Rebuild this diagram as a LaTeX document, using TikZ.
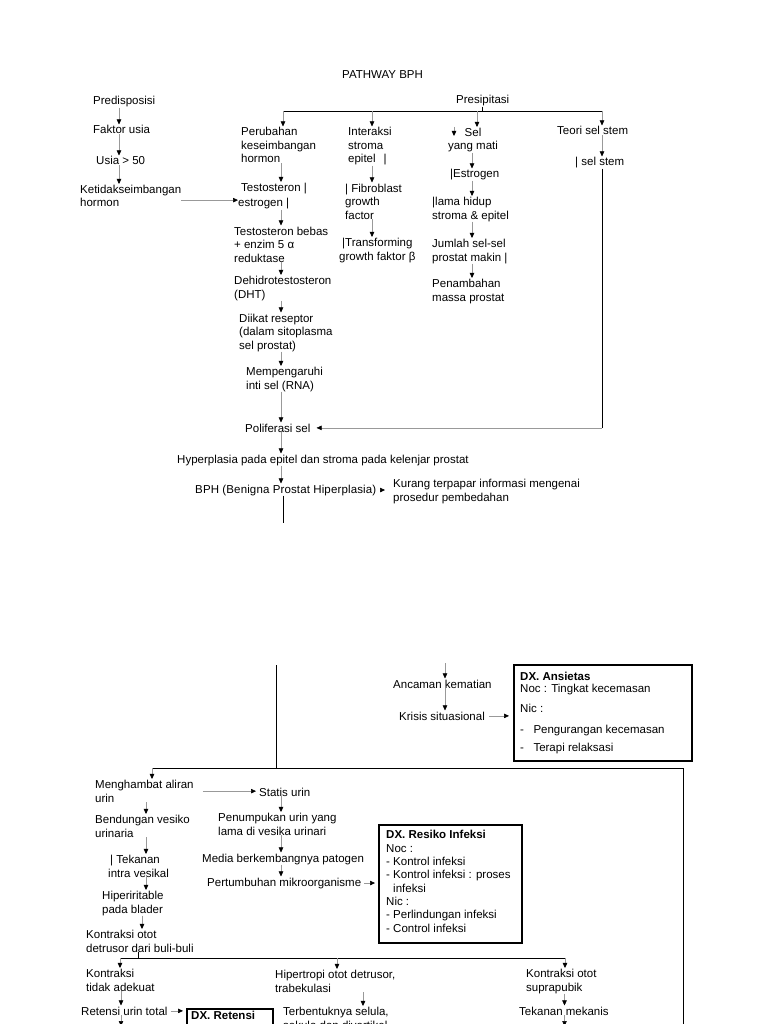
\documentclass[tikz,border=0pt]{standalone}
\usepackage{fontspec}
\setmainfont{Liberation Sans}
\usetikzlibrary{arrows.meta}

\begin{document}
\begin{tikzpicture}[x=1pt, y=-1pt,
    txt/.style={anchor=base west, inner sep=0pt, align=left, font=\fontsize{11.5}{13.5}\selectfont},
    arr/.style={draw=black!40, line width=0.5pt, -{Triangle[width=4.5pt,length=5pt,color=black]}, shorten >=1pt},
    line/.style={draw=black, line width=0.8pt},
    dxbox/.style={draw, line width=2.2pt, inner sep=0pt, anchor=north west}]
    \useasboundingbox (0,0) rectangle (768,1024);

    % upper part (base = last line)
    \node[txt] (title) at (342,79) {PATHWAY BPH};
    \node[txt] (pred) at (93,105) {Predisposisi};
    \node[txt] (faktor) at (93,134) {Faktor usia};
    \node[txt] (usia) at (96,165) {Usia > 50};
    \node[txt] (ketid) at (80,207) {Ketidakseimbangan\\hormon};
    \node[txt] (presip) at (456,104) {Presipitasi};
    \node[txt] (perub) at (241,163) {Perubahan\\keseimbangan\\hormon};
    \node[txt] (testo) at (241,207) {Testosteron |\\[2pt]\hspace*{-3pt}estrogen |};
    \node[txt] (bebas) at (234,262) {Testosteron bebas\\+ enzim 5 α\\reduktase};
    \node[txt] (dht) at (234,298) {Dehidrotestosteron\\(DHT)};
    \node[txt] (diikat) at (239,349) {Diikat reseptor\\(dalam sitoplasma\\sel prostat)};
    \node[txt] (mempeng) at (246,389) {Mempengaruhi\\inti sel (RNA)};
    \node[txt] (polif) at (245,432) {Poliferasi sel};
    \node[txt] (hyper) at (177,463) {Hyperplasia pada epitel dan stroma pada kelenjar prostat};
    \node[txt, font=\fontsize{11.5}{13.5}\selectfont\addfontfeature{LetterSpace=1.2}] (bph) at (195,493) {BPH (Benigna Prostat Hiperplasia)};
    \node[txt] (kurang) at (393,501) {Kurang terpapar informasi mengenai\\prosedur pembedahan};
    \node[txt] (inter) at (348,163) {Interaksi\\stroma\\epitel\hspace{8pt}|};
    \node[txt] (fibro) at (345,219) {| Fibroblast\\growth\\factor};
    \node[txt] (transf) at (342,260) {|Transforming\\\hspace*{-3pt}growth faktor β};
    \node[txt, align=center, anchor=base] (sel) at (473,150) {Sel\\yang mati};
    \node[txt] (estro) at (450,178) {|Estrogen};
    \node[txt] (lama) at (432,219) {|lama hidup\\stroma \& epitel};
    \node[txt] (jumlah) at (432,261) {Jumlah sel-sel\\prostat makin |};
    \node[txt] (penamb) at (432,301) {Penambahan\\massa prostat};
    \node[txt] (teori) at (557,135) {Teori sel stem};
    \node[txt] (selstem) at (575,166) {| sel stem};

    \coordinate (cL) at (119,0);
    \coordinate (cP) at (281,0);
    \coordinate (cI) at (372,0);
    \coordinate (cS) at (472,0);
    \coordinate (cT) at (602,0);
    \coordinate (d1) at (283,111);
    \coordinate (d2) at (372,111);
    \coordinate (d3) at (477,111);
    \coordinate (d4) at (602,111);
    \coordinate (selin) at (454,127);
    \coordinate (cut1) at (283,523);
    \coordinate (kurin) at (386,0);

    \draw[arr] (pred.south -| cL) -- (faktor.north -| cL);
    \draw[arr] (faktor.south -| cL) -- (usia.north -| cL);
    \draw[arr] (usia.south -| cL) -- (ketid.north -| cL);
    \draw[arr, shorten >=3pt] ([yshift=-4pt]ketid.east) -- ([yshift=-4pt]ketid.east -| testo.west);

    \draw[line] (presip.south) -- (presip.south |- d1);
    \draw[line] (d1) -- (d4);
    \draw[arr] (d1) -- (d1 |- perub.north);
    \draw[arr] (d2) -- (d2 |- inter.north);
    \draw[arr] (d3) -- (d3 |- sel.north);
    \draw[arr] (d4) -- (d4 |- teori.north);
    \draw[arr] (selin) -- (selin |- 0,137);

    \draw[arr] (perub.south -| cP) -- (testo.north -| cP);
    \draw[arr] (testo.south -| cP) -- (bebas.north -| cP);
    \draw[arr] (bebas.south -| cP) -- (dht.north -| cP);
    \draw[arr] (dht.south -| cP) -- (diikat.north -| cP);
    \draw[arr] (diikat.south -| cP) -- (mempeng.north -| cP);
    \draw[arr] (mempeng.south -| cP) -- (polif.north -| cP);
    \draw[arr] (polif.south -| cP) -- (hyper.north -| cP);
    \draw[arr] (hyper.south -| cP) -- (bph.north -| cP);

    \draw[arr] (inter.south -| cI) -- (fibro.north -| cI);
    \draw[arr] (fibro.south -| cI) -- (transf.north -| cI);

    \draw[arr] (sel.south -| cS) -- (estro.north -| cS);
    \draw[arr] (estro.south -| cS) -- (lama.north -| cS);
    \draw[arr] (lama.south -| cS) -- (jumlah.north -| cS);
    \draw[arr] (jumlah.south -| cS) -- (penamb.north -| cS);

    \draw[arr] (teori.south -| cT) -- (selstem.north -| cT);
    \draw[line] (selstem.south -| cT) -- (cT |- polif.east);
    \draw[arr, shorten >=6pt] (cT |- polif.east) -- (polif.east);

    \draw[arr, shorten <=4pt] (bph.east) -- (bph.east -| kurin);
    \draw[line] (bph.south -| d1) -- (cut1);

    % lower part
    \node[txt] (ancam) at (393,688) {Ancaman kematian};
    \node[txt] (krisis) at (399,720) {Krisis situasional};
    \node[dxbox, minimum width=178pt, minimum height=96pt] (ansbox) at (513,664) {};
    \node[txt] (anstxt) at (520,751) {\textbf{DX. Ansietas}\\[-1pt]Noc : Tingkat kecemasan\\[6.5pt]Nic :\\[7.5pt]\makebox[13.3pt][l]{-}Pengurangan kecemasan\\[4pt]\makebox[13.3pt][l]{-}Terapi relaksasi};

    \node[txt] (mengh) at (95,802) {Menghambat aliran\\urin};
    \node[txt] (statis) at (259,796) {Statis urin};
    \node[txt] (bend) at (95,837) {Bendungan vesiko\\urinaria};
    \node[txt] (tekan) at (110,877) {| Tekanan\\\hspace*{-2pt}intra vesikal};
    \node[txt] (hiperit) at (102,913) {Hiperiritable\\pada blader};
    \node[txt] (kontr) at (86,952) {Kontraksi otot\\detrusor dari buli-buli};
    \node[txt] (penump) at (218,835) {Penumpukan urin yang\\lama di vesika urinari};
    \node[txt] (media) at (202,862) {Media berkembangnya patogen};
    \node[txt] (pertum) at (207,886) {Pertumbuhan mikroorganisme};
    \node[dxbox, minimum width=143pt, minimum height=118pt] (resbox) at (378,824) {};
    \node[txt, font=\fontsize{11.5}{13.3}\selectfont] (restxt) at (386,932) {\textbf{DX. Resiko Infeksi}\\Noc :\\- Kontrol infeksi\\- Kontrol infeksi : proses\\\phantom{- }infeksi\\Nic :\\- Perlindungan infeksi\\- Control infeksi};

    \node[txt] (kontr2) at (86,991) {Kontraksi\\tidak adekuat};
    \node[txt] (retensi) at (81,1015) {Retensi urin total};
    \node[dxbox, minimum width=86pt, minimum height=40pt] (retbox) at (186,1008) {};
    \node[txt] (rettxt) at (191,1033) {\textbf{DX. Retensi}\\urin};
    \node[txt] (hipert) at (275,992) {Hipertropi otot detrusor,\\trabekulasi};
    \node[txt] (terbent) at (283,1029) {Terbentuknya selula,\\sekula dan divertikel};
    \node[txt] (kontr3) at (526,991) {Kontraksi otot\\suprapubik};
    \node[txt] (tekmek) at (519,1015) {Tekanan mekanis};

    \coordinate (cut2) at (276,665);
    \coordinate (j1) at (152,768);
    \coordinate (j2) at (683,768);
    \coordinate (j3) at (683,1030);
    \coordinate (cA) at (445,0);
    \coordinate (ancin) at (445,663);
    \coordinate (cM) at (146,0);
    \coordinate (cM2) at (142,0);
    \coordinate (cN) at (281,0);
    \coordinate (k0) at (138,958);
    \coordinate (k1) at (120,958);
    \coordinate (k2) at (337,958);
    \coordinate (k3) at (565,958);
    \coordinate (cK) at (121,0);
    \coordinate (cH) at (363,0);
    \coordinate (cR) at (564.5,0);
    \coordinate (out1) at (121,1027);
    \coordinate (out2) at (564.5,1027);

    \draw[line] (cut2) -- (cut2 |- j1);
    \draw[line] (j1) -- (j2) -- (j3);
    \draw[arr] (j1) -- (j1 |- mengh.north);

    \draw[arr] (ancin) -- (ancin |- ancam.north);
    \draw[arr] (ancam.south -| cA) -- (krisis.north -| cA);
    \draw[arr, shorten <=4pt, shorten >=4pt] (krisis.east) -- (krisis.east -| ansbox.west);

    \draw[arr] (mengh.south -| cM) -- (bend.north -| cM);
    \draw[arr] (bend.south -| cM) -- (tekan.north -| cM);
    \draw[arr] (tekan.south -| cM) -- (hiperit.north -| cM);
    \draw[arr] (hiperit.south -| cM2) -- (kontr.north -| cM2);
    \draw[arr, shorten <=9pt, shorten >=3pt] (mengh.east) -- (mengh.east -| statis.west);

    \draw[arr] (statis.south -| cN) -- (penump.north -| cN);
    \draw[arr] (penump.south -| cN) -- (media.north -| cN);
    \draw[arr] (media.south -| cN) -- (pertum.north -| cN);
    \draw[arr, shorten <=3pt, shorten >=3pt] (pertum.east) -- (pertum.east -| resbox.west);

    \draw[line] (kontr.south -| k0) -- (k0);
    \draw[line] (k1) -- (k3);
    \draw[arr] (k1) -- (k1 |- kontr2.north);
    \draw[arr] (k2) -- (k2 |- hipert.north);
    \draw[arr] (k3) -- (k3 |- kontr3.north);

    \draw[arr] (kontr2.south -| cK) -- (retensi.north -| cK);
    \draw[arr] (retensi.south -| cK) -- (out1);
    \draw[arr, shorten <=3pt, shorten >=3pt] (retensi.east) -- (retensi.east -| retbox.west);
    \draw[arr] (hipert.south -| cH) -- (terbent.north -| cH);
    \draw[arr] (kontr3.south -| cR) -- (tekmek.north -| cR);
    \draw[arr] (tekmek.south -| cR) -- (out2);
\end{tikzpicture}
\end{document}
